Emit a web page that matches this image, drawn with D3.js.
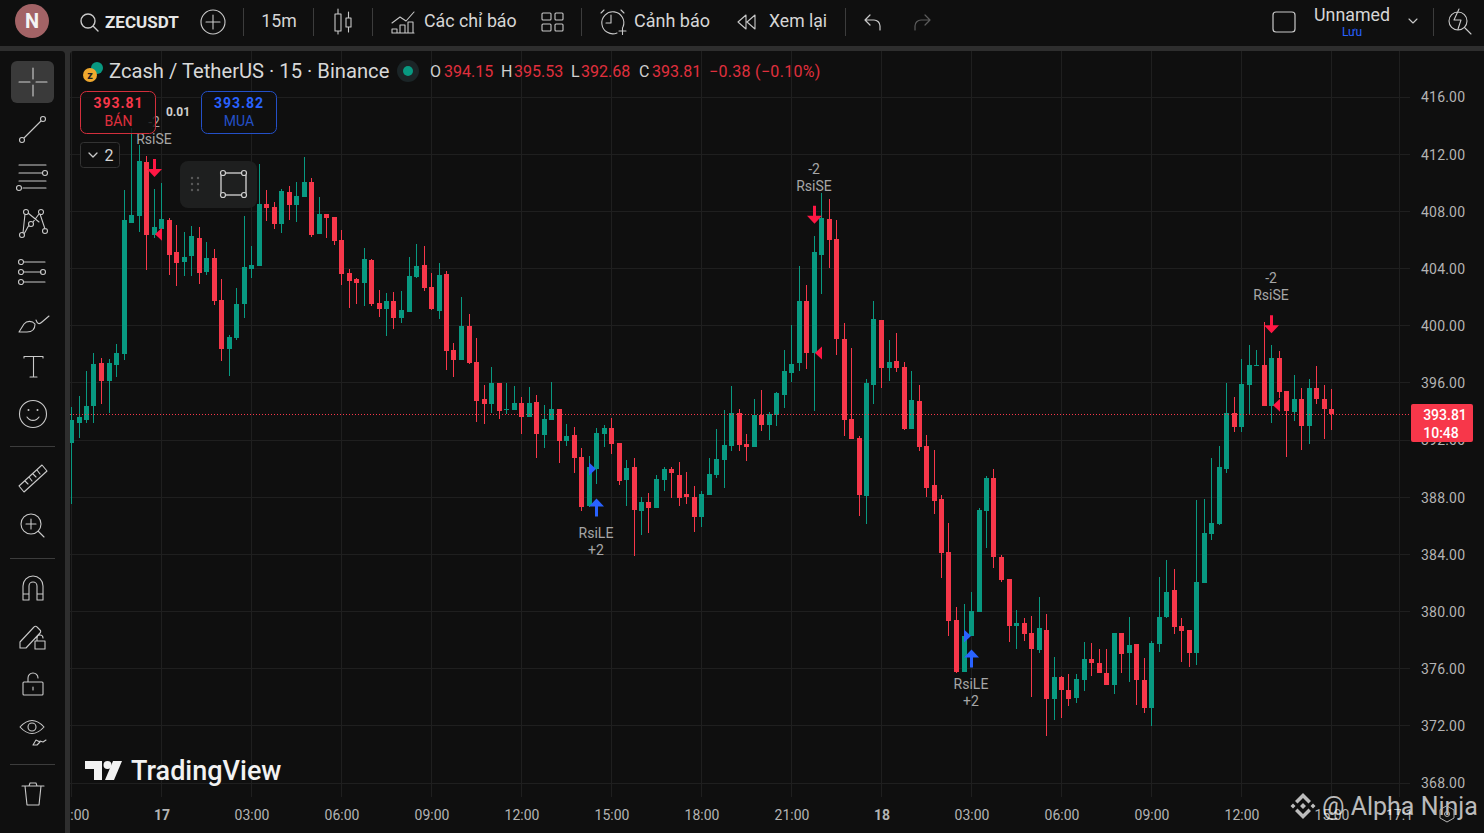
<!DOCTYPE html>
<html>
<head>
<meta charset="utf-8">
<script src="https://cdn.jsdelivr.net/npm/d3@7/dist/d3.min.js"></script>
<style>
  html, body { margin: 0; padding: 0; background: #0f0f0f; overflow: hidden; }
  svg { display: block; }
  text { font-family: Roboto, "Liberation Sans", sans-serif; }
</style>
</head>
<body>
<div id="chart"></div>
<script>
// 15m candles, left to right
const opens = [
  391.76,393.14,393.35,394.33,397.34,396.08,397.2,397.97,407.14,407.63,
  411.41,406.3,406.72,407.35,405.11,404.41,404.83,406.09,403.71,404.69,
  401.75,398.32,399.09,401.47,403.92,404.13,408.47,408.26,407.07,409.31,
  408.4,408.96,410.01,406.37,407.77,407.56,405.95,403.64,403.22,402.94,
  404.55,401.54,401.12,401.68,400.49,400.91,403.36,404.2,402.66,400.98,
  403.57,398.25,397.55,399.93,397.41,394.82,394.47,395.94,394.05,394.05,
  394.54,393.56,394.61,392.3,393.35,394.12,391.88,392.3,390.76,387.33,
  389.92,392.37,392.79,391.74,389.15,390.06,386.98,387.61,387.19,389.15,
  389.92,389.5,388.17,387.96,386.56,388.1,389.5,390.55,391.53,393.84,
  391.67,391.46,393.7,393,393.7,395.1,396.64,397.34,401.68,398.04,
  404.9,407.42,406.02,399.02,393.42,392.09,388.03,395.8,400.35,396.99,
  397.48,397.06,392.72,394.68,391.53,388.8,387.82,384.11,379.35,375.71,
  378.23,379.91,386.98,389.29,383.76,382.22,378.93,379.14,378.44,377.25,
  378.65,373.82,375.36,374.45,373.89,375.15,376.62,376.34,375.64,374.8,
  378.44,377.04,377.67,375.15,373.19,377.67,379.56,381.45,378.93,378.65,
  377.04,381.94,385.37,386.07,389.92,393.84,392.86,395.8,397.13,397.2,
  394.33,397.69,395.38,393.91,394.82,392.93,395.59,394.82,394.15
];
const highs = [
  394.28,395.03,396.78,398.04,397.69,397.62,398.67,409.45,413.79,412.6,
  411.83,409.52,409.94,407.49,407,406.51,406.93,406.86,405.81,405.32,
  403.22,399.3,402.59,407.63,405.53,411.27,409.45,408.61,409.52,409.73,
  410.01,411.76,410.29,408.96,407.77,407.56,406.65,403.92,403.29,405.39,
  404.62,402.45,402.24,402.31,402.38,404.76,405.67,405.53,403.64,404.34,
  403.78,398.74,401.96,400.77,399.09,395.8,397.06,395.94,395.94,395.73,
  394.96,395.66,395.1,394.4,396.01,394.12,393.07,392.86,391.39,390.83,
  392.79,393,393.49,391.74,390.55,390.69,387.96,388.24,389.5,390.06,
  390.06,390.41,389.71,388.73,388.38,390.69,392.72,394.05,395.73,394.12,
  392.37,394.82,395.45,393.91,395.31,398.25,400,404.13,402.8,406.23,
  409.24,408.82,407.35,400.14,398.39,392.23,396.22,401.68,400.35,398.95,
  399.44,397.41,396.78,395.8,392.3,391.25,388.1,386.14,380.26,380.47,
  381.31,387.19,389.43,389.92,383.9,382.22,380.05,379.49,379.63,380.96,
  379.77,376.76,375.43,375.57,375.57,377.81,377.74,377.32,377.32,378.44,
  378.44,379.56,377.67,376.69,377.88,382.36,383.55,382.92,379.49,378.65,
  387.75,387.82,390.69,391.53,395.94,394.96,397.62,398.6,398.25,400.21,
  398.6,398.18,395.38,396.5,395.59,396.22,397.13,395.8,395.53
];
const lows = [
  387.52,392.11,393.14,393.14,394.47,393.84,396.36,397.55,407.14,406.51,
  403.85,406.09,406.65,403.5,402.73,403.43,403.43,402.87,403.5,401.4,
  397.48,396.43,398.95,400.49,403.29,404.13,407.28,406.72,406.44,407.35,
  407.21,408.96,406.16,406.37,406.09,405.6,402.8,401.19,401.47,401.33,
  401.33,400.56,399.23,399.72,400.14,400.91,403.29,402.38,401.05,400.42,
  396.85,396.36,397.55,397.27,393.21,393.07,393.84,393.42,393.77,394.05,
  392.37,393.56,390.69,391.39,393.35,390.34,391.53,389.64,386.98,387.26,
  388.87,391.46,390.97,388.8,387.33,383.83,385.3,385.44,387.19,388.38,
  387.89,387.33,387.47,385.51,385.86,388.1,389.29,388.59,391.18,391.18,
  390.48,391.46,392.58,391.95,392.93,394.19,396.01,396.78,396.92,393.98,
  402.17,403.99,397.9,392.23,392.02,386.63,386.07,394.47,395.59,396.08,
  396.71,392.65,392.72,391.18,387.96,386.77,382.29,378.23,375.64,375.71,
  378.23,379.91,384.39,382.99,382.01,377.81,377.32,377.88,373.96,377.04,
  371.23,372.35,372.49,373.33,373.54,374.38,375.43,375.64,374.8,374.17,
  375.64,375.01,373.4,372.84,371.93,377.11,379.49,378.37,376.41,376.06,
  376.2,381.94,384.95,386,389.64,392.51,392.51,393.77,397.13,394.33,
  393.14,394.89,390.76,393.28,391.25,391.67,394.47,392.02,392.68
];
const closes = [
  393.35,393.56,394.33,397.27,396.08,397.34,398.04,407.35,407.7,411.48,
  406.3,406.86,407.42,404.9,404.34,404.76,406.23,403.64,404.69,401.68,
  398.32,399.16,401.47,404.06,404.2,408.47,408.19,407.07,409.38,408.4,
  409.03,410.01,406.3,407.77,407.49,405.88,403.57,403.08,402.94,404.62,
  401.47,401.12,401.68,400.49,401.05,403.43,404.13,402.59,401.12,403.5,
  398.18,397.55,399.93,397.34,394.68,394.47,395.94,393.98,394.12,394.54,
  393.56,394.54,392.37,393.42,394.12,391.88,392.23,390.69,387.26,390.06,
  392.44,392.79,391.67,389.08,389.99,387.05,387.61,387.19,389.22,389.92,
  389.64,387.89,387.96,386.56,388.17,389.57,390.62,391.6,393.84,391.6,
  391.46,393.7,393,393.77,395.24,396.78,397.27,401.68,398.04,405.11,
  407.49,405.95,399.02,393.35,392.02,388.1,395.94,400.42,396.99,397.41,
  396.99,392.72,394.75,391.46,388.59,387.68,384.04,379.28,375.71,378.23,
  379.98,387.05,389.29,383.76,382.15,378.93,379.14,378.37,377.32,378.79,
  373.82,375.36,374.45,373.82,375.22,376.62,376.34,375.64,374.8,378.44,
  376.97,377.6,375.15,373.19,377.74,379.56,381.31,378.86,378.58,377.04,
  382.01,385.44,386.14,390.06,393.84,392.86,395.87,397.2,397.2,394.33,
  397.69,395.31,393.98,394.82,392.93,395.59,394.82,394.12,393.81
];

// axis ticks
const priceTicks = [416,412,408,404,400,396,392,388,384,380,376,372,368];
const timeBars = [0,12,24,36,48,60,72,84,96,108,120,132,144,156,168,177];
const timeLabels = ["21:00","17","03:00","06:00","09:00","12:00","15:00","18:00","21:00","18","03:00","06:00","09:00","12:00","15:00","17:1"];
const boldLabels = ["17","18"];

// strategy signals
const entrySignals = [
  { bar: 11, price: 410.36, dir: "down", label: "RsiSE", size: "-2" },
  { bar: 70, price: 387.87, dir: "up", label: "RsiLE", size: "+2" },
  { bar: 99, price: 407.1, dir: "down", label: "RsiSE", size: "-2" },
  { bar: 120, price: 377.3, dir: "up", label: "RsiLE", size: "+2" },
  { bar: 160, price: 399.44, dir: "down", label: "RsiSE", size: "-2" },
];
const exitSignals = [
  { bar: 12, price: 406.37, dir: "left" },
  { bar: 69, price: 389.94, dir: "right" },
  { bar: 100, price: 398.06, dir: "left" },
  { bar: 119, price: 378.25, dir: "right" },
  { bar: 161, price: 394.4, dir: "left" },
];

const lastPrice = 393.81;
const legendItems = [
  { key: "O", val: "394.15", kx: 430, vx: 444 },
  { key: "H", val: "395.53", kx: 501, vx: 514 },
  { key: "L", val: "392.68", kx: 571, vx: 581 },
  { key: "C", val: "393.81", kx: 639, vx: 652 },
];

const width = 1484, height = 833;
const colors = {
  bg: "#0f0f0f", band: "#2e2e2e", grid: "#1f1f1f", up: "#089981", down: "#f7374a",
  text: "#d6d6d6", axis: "#b4b4b4", icon: "#c9c9c9", blue: "#2962ff", arrowDown: "#ff1744",
};

const svg = d3.select("#chart").append("svg").attr("width", width).attr("height", height);
svg.append("rect").attr("width", width).attr("height", height).attr("fill", colors.bg);

const x = d3.scaleLinear().domain([0, 168]).range([71.5, 1331.5]);
const y = d3.scaleLinear().domain([416, 368]).range([96.5, 782.5]);
const barX = (i) => Math.floor(x(i));

svg.append("clipPath").attr("id", "pane").append("rect")
  .attr("x", 70).attr("y", 50).attr("width", 1414).attr("height", 783);

const pane = svg.append("g").attr("clip-path", "url(#pane)");

drawGrid();
drawCandles();
drawLastLine();
drawSignals();
drawAxes();
drawFrame();
drawTopBar();
drawSideBar();
drawLegend();
drawOrderBoxes();
drawLogos();
drawLastLabel();

function drawGrid() {
  const grid = pane.append("g").attr("stroke", colors.grid).attr("shape-rendering", "crispEdges");
  grid.selectAll(".h").data(priceTicks).join("line")
    .attr("x1", 70).attr("x2", 1410)
    .attr("y1", (d) => Math.round(y(d)) + 0.5).attr("y2", (d) => Math.round(y(d)) + 0.5);
  grid.selectAll(".v").data(timeBars).join("line")
    .attr("x1", (d) => barX(d) + 0.5).attr("x2", (d) => barX(d) + 0.5)
    .attr("y1", 50).attr("y2", 797);
}

function drawCandles() {
  const bars = pane.append("g").attr("shape-rendering", "crispEdges");
  const idx = d3.range(opens.length);
  const col = (i) => (closes[i] >= opens[i] ? colors.up : colors.down);

  bars.selectAll(".wick").data(idx).join("rect")
    .attr("x", barX).attr("width", 1)
    .attr("y", (i) => Math.round(y(highs[i])))
    .attr("height", (i) => Math.max(1, Math.round(y(lows[i])) - Math.round(y(highs[i]))))
    .attr("fill", col);

  bars.selectAll(".body").data(idx).join("rect")
    .attr("x", (i) => barX(i) - 2).attr("width", 5)
    .attr("y", (i) => Math.round(y(Math.max(opens[i], closes[i]))))
    .attr("height", (i) => Math.max(1, Math.round(y(Math.min(opens[i], closes[i]))) - Math.round(y(Math.max(opens[i], closes[i])))))
    .attr("fill", col);
}

function drawLastLine() {
  pane.append("line")
    .attr("x1", 70).attr("x2", 1411)
    .attr("y1", Math.round(y(lastPrice)) + 0.5).attr("y2", Math.round(y(lastPrice)) + 0.5)
    .attr("stroke", colors.down).attr("stroke-dasharray", "1 2");
}

function drawSignals() {
  const g = pane.append("g");

  entrySignals.forEach((s) => {
    const cx = barX(s.bar) + 0.5;
    const py = y(s.price);
    const col = s.dir === "down" ? colors.arrowDown : colors.blue;
    const sign = s.dir === "down" ? -1 : 1;
    // arrow head sits next to the candle, shaft points away from it
    g.append("path")
      .attr("d", `M${cx},${py} l-7.5,${sign * 8} h6 v${sign * 10} h3 v${-sign * 10} h6 z`)
      .attr("fill", col);
    const labelY = s.dir === "down" ? py - 33 : py + 39;
    const sizeY = s.dir === "down" ? py - 50 : py + 56;
    g.append("text").attr("x", cx - 0.5).attr("y", labelY).attr("text-anchor", "middle")
      .attr("font-size", 14).attr("fill", "#a6a6a6").text(s.label);
    g.append("text").attr("x", cx - 0.5).attr("y", sizeY).attr("text-anchor", "middle")
      .attr("font-size", 14).attr("fill", "#a6a6a6").text(s.size);
  });

  exitSignals.forEach((s) => {
    const px = barX(s.bar);
    const py = y(s.price);
    const d = s.dir === "left"
      ? `M${px - 6},${py} l7,-6.5 v13 z`
      : `M${px + 7},${py} l-7,-6.5 v13 z`;
    g.append("path").attr("d", d).attr("fill", s.dir === "left" ? colors.arrowDown : colors.blue);
  });
}

function drawAxes() {
  const yAxis = d3.axisRight(y).tickValues(priceTicks).tickFormat(d3.format(".2f")).tickSize(0).tickPadding(0);
  const priceG = svg.append("g").attr("transform", "translate(1421,1)").call(yAxis);
  priceG.select(".domain").remove();
  priceG.selectAll("text").attr("font-size", 14).attr("fill", colors.axis)
    .attr("font-family", "Roboto").attr("letter-spacing", "0.2px");

  const xAxis = d3.axisBottom(x).tickValues(timeBars).tickFormat((d, i) => timeLabels[i]).tickSize(0).tickPadding(0);
  const timeG = pane.append("g").attr("transform", "translate(0,810)").call(xAxis);
  timeG.select(".domain").remove();
  timeG.selectAll("text").attr("font-size", 14).attr("fill", colors.axis)
    .attr("font-family", "Roboto")
    .attr("font-weight", (d, i) => (boldLabels.includes(timeLabels[i]) ? 700 : 400));
}

function drawFrame() {
  svg.append("rect").attr("x", 0).attr("y", 46).attr("width", width).attr("height", 5).attr("fill", colors.band);
  svg.append("rect").attr("x", 65).attr("y", 46).attr("width", 5).attr("height", 787).attr("fill", colors.band);
  svg.append("rect").attr("x", 0).attr("y", 51).attr("width", 65).attr("height", 782).attr("fill", colors.bg);
  svg.append("path").attr("d", "M70,51 h4 a4,4 0 0 0 -4,4 z").attr("fill", colors.band);
  svg.append("path").attr("d", "M65,51 h-4 a4,4 0 0 1 4,4 z").attr("fill", colors.band);
}

function icon(g, d, opt = {}) {
  return g.append("path").attr("d", d)
    .attr("fill", opt.fill || "none")
    .attr("stroke", opt.stroke === undefined ? colors.icon : opt.stroke)
    .attr("stroke-width", opt.sw || 1.1)
    .attr("stroke-linecap", "round").attr("stroke-linejoin", "round");
}

function circlePath(cx, cy, r) {
  return `M${cx - r},${cy} a${r},${r} 0 1 0 ${2 * r},0 a${r},${r} 0 1 0 ${-2 * r},0`;
}

function topText(tx, ty, str, opt = {}) {
  const t = svg.append("text").attr("x", tx).attr("y", ty)
    .attr("text-anchor", opt.anchor || "start")
    .attr("font-size", opt.size || 16).attr("font-weight", opt.weight || 400)
    .attr("fill", opt.fill || colors.text).text(str);
  if (opt.spacing) t.attr("letter-spacing", opt.spacing);
  return t;
}

function drawTopBar() {
  const g = svg.append("g");
  g.append("circle").attr("cx", 32).attr("cy", 21).attr("r", 17).attr("fill", "#a36366");
  topText(32, 28, "N", { anchor: "middle", size: 20, weight: 700, fill: "#f4f4f4" });

  icon(g, circlePath(88, 21, 7) + " M93,26 l5,5", { sw: 1.4 });
  topText(105, 28, "ZECUSDT", { size: 17, weight: 700, fill: "#e6e6e6" });
  icon(g, circlePath(213, 22, 12) + " M213,15 v14 M206,22 h14");

  [243, 313, 372, 581, 845, 1433].forEach((sx) => {
    g.append("line").attr("x1", sx + 0.5).attr("x2", sx + 0.5).attr("y1", 8).attr("y2", 36)
      .attr("stroke", "#3c3c3c");
  });

  topText(279, 27, "15m", { anchor: "middle", size: 17.7 });
  icon(g, "M335,14 h6 v17 h-6 z M338,9 v5 M338,31 v3 M346,18 h5 v9 h-5 z M348.5,12 v6 M348.5,27 v5");
  icon(g, "M392,23 l8,-6 l6,4 l8,-9 M392,33 v-4 h5 v4 M392,33 h22 M400,33 v-8 h5 v8 M408,33 v-11 h5 v11");
  topText(424, 27, "Các chỉ báo", { size: 17.8 });
  icon(g, "M543,13 h7 a1,1 0 0 1 1,1 v5 a1,1 0 0 1 -1,1 h-7 a1,1 0 0 1 -1,-1 v-5 a1,1 0 0 1 1,-1 z M556,13 h6 a1,1 0 0 1 1,1 v5 a1,1 0 0 1 -1,1 h-6 a1,1 0 0 1 -1,-1 v-5 a1,1 0 0 1 1,-1 z M543,24 h7 a1,1 0 0 1 1,1 v5 a1,1 0 0 1 -1,1 h-7 a1,1 0 0 1 -1,-1 v-5 a1,1 0 0 1 1,-1 z M556,24 h6 a1,1 0 0 1 1,1 v5 a1,1 0 0 1 -1,1 h-6 a1,1 0 0 1 -1,-1 v-5 a1,1 0 0 1 1,-1 z");
  icon(g, "M617,33 a11,11 0 1 1 6,-6 M611,15 v8 h-5 M601,13 l3,-3 M621,10 l3,3 M619,31 h7 M622.5,27.5 v7");
  topText(634, 27, "Cảnh báo", { size: 18 });
  icon(g, "M746,15 l-8,7 l8,7 z M755,15 l-8,7 l8,7 z");
  topText(769, 27, "Xem lại", { size: 17.6 });
  icon(g, "M870,15 l-5,5 l5,5 M865,20 h9 a6,6 0 0 1 6,6 v4", { sw: 1.2 });
  icon(g, "M925,15 l5,5 l-5,5 M930,20 h-9 a6,6 0 0 0 -6,6 v4", { stroke: "#5c5c5c", sw: 1.2 });

  icon(g, "M1276,12 h16 a3,3 0 0 1 3,3 v14 a3,3 0 0 1 -3,3 h-16 a3,3 0 0 1 -3,-3 v-14 a3,3 0 0 1 3,-3 z", { sw: 1.2 });
  topText(1352, 21, "Unnamed", { anchor: "middle", size: 17.8 });
  topText(1352, 36, "Lưu", { anchor: "middle", size: 12, fill: colors.blue });
  icon(g, "M1409,19 l4,4 l4,-4");
  icon(g, circlePath(1458, 21, 9) + " M1465,28 l6,6 M1459,9 l-5,11 h7 l-3,9", { sw: 1.1 });
}

function drawSideBar() {
  const g = svg.append("g");
  g.append("rect").attr("x", 11).attr("y", 61).attr("width", 43).attr("height", 42).attr("rx", 6).attr("fill", "#3a3a3a");
  icon(g, "M33,68 v11 M33,85 v11 M19,82 h11 M36,82 h11", { stroke: "#cfcfcf" });

  icon(g, circlePath(22, 140, 2.5) + circlePath(43, 119, 2.5) + " M24,138 L41,121");
  icon(g, "M19,165 h27 M19,173 h23 M19,181 h27 M23,188 h23 " + circlePath(45, 173, 2.5) + circlePath(19, 188, 2.5));
  icon(g, circlePath(26, 212, 2.5) + circlePath(41, 212, 2.5) + circlePath(22, 235, 2.5) + circlePath(45, 231, 2.5) + circlePath(31, 224, 2.5)
    + " M25,214 L23,233 M28,213 L39,222 M40,214 L45,229 M39,214 L33,222 M29,225 L24,234");
  icon(g, circlePath(21, 262, 2.5) + circlePath(21, 272, 2.5) + circlePath(21, 282, 2.5) + circlePath(43, 272, 2.5)
    + " M24,262 h21 M24,272 h17 M24,282 h21");
  icon(g, "M19,332 l5,-8 a7,7 0 0 1 11,0 q0,8 -8,8 z M36,320 q2,6 6,2 l7,-6", { sw: 1.1 });
  icon(g, "M24,358 v-1.5 h19 v1.5 M33.5,357 v20 M30,377 h7");
  icon(g, circlePath(33, 414, 13.5) + " M27,417 a7,7 0 0 0 12,0");
  g.append("circle").attr("cx", 28.5).attr("cy", 410).attr("r", 1).attr("fill", colors.icon);
  g.append("circle").attr("cx", 37.5).attr("cy", 410).attr("r", 1).attr("fill", colors.icon);

  [446, 558, 764].forEach((sy) => {
    g.append("line").attr("x1", 10).attr("x2", 55).attr("y1", sy + 0.5).attr("y2", sy + 0.5).attr("stroke", "#3c3c3c");
  });

  icon(g, "M19,486 L42,465 L47,471 L24,492 z M25,481 l3,3 M29,477 l3,4 M33,474 l3,3 M37,470 l3,4");
  icon(g, circlePath(31, 524, 10) + " M38,531 l6,6 M31,519 v10 M26,524 h10");
  icon(g, "M23,600 v-14 a10,10 0 0 1 20,0 v14 h-6 v-14 a4,4 0 0 0 -8,0 v14 z M23,594 h6 M37,594 h6");
  icon(g, "M20,648 v-6 l14,-15 a2,2 0 0 1 3,0 l3,3 a2,2 0 0 1 0,3 l-14,15 z M35,641 h10 v8 h-10 z M37,641 v-3 a3,3 0 0 1 6,0");
  icon(g, "M24,682 h18 a1,1 0 0 1 1,1 v11 a1,1 0 0 1 -1,1 h-18 a1,1 0 0 1 -1,-1 v-11 a1,1 0 0 1 1,-1 z M28,682 v-4 a5,5 0 0 1 10,0 M33,687 v3");
  icon(g, "M20,727 q12,-13 24,0 q-12,13 -24,0 z" + circlePath(32, 727, 4) + " M33,745 l3,-5 l4,2 l-3,3 z M40,741 l3,1 l3,-2");
  icon(g, "M22,786 h22 M29,786 l1,-3 h6 l1,3 M25,786 l2,19 h12 l2,-19");
}

function drawLegend() {
  // coin logo
  svg.append("circle").attr("cx", 97).attr("cy", 68).attr("r", 6).attr("fill", "#089981");
  svg.append("circle").attr("cx", 90).attr("cy", 75).attr("r", 7).attr("fill", "#f0a92e");
  topText(90, 79, "z", { anchor: "middle", size: 11, weight: 700, fill: "#222" });

  topText(109, 78, "Zcash / TetherUS · 15 · Binance", { size: 20.2, fill: "#d8d8d8" });

  svg.append("circle").attr("cx", 408).attr("cy", 71).attr("r", 11).attr("fill", "#1b2527");
  svg.append("circle").attr("cx", 408).attr("cy", 71).attr("r", 5).attr("fill", "#089981");

  legendItems.forEach((d) => {
    topText(d.kx, 77, d.key, { size: 16, fill: "#d0d0d0" });
    topText(d.vx, 77, d.val, { size: 16, fill: "#e0303e" });
  });
  topText(709, 77, "−0.38 (−0.10%)", { size: 16, fill: "#e0303e", spacing: "0.3px" });
}

function drawOrderBoxes() {
  const box = (bx, col) => svg.append("rect").attr("x", bx + 0.5).attr("y", 91.5).attr("width", 75).attr("height", 42)
    .attr("rx", 6).attr("fill", "rgba(15,15,15,0.8)").attr("stroke", col);
  box(80, "#d32f3c");
  box(201, "#2450c8");
  topText(118.5, 108, "393.81", { anchor: "middle", size: 14, weight: 700, fill: colors.down, spacing: "1px" });
  topText(118.5, 126, "BÁN", { anchor: "middle", size: 14, fill: "#e0303e" });
  topText(178, 116, "0.01", { anchor: "middle", size: 12, weight: 700, fill: "#cfcfcf" });
  topText(239, 108, "393.82", { anchor: "middle", size: 14, weight: 700, fill: colors.blue, spacing: "1px" });
  topText(239, 126, "MUA", { anchor: "middle", size: 14, fill: "#2450c8" });

  svg.append("rect").attr("x", 80.5).attr("y", 142.5).attr("width", 39).attr("height", 25).attr("rx", 3)
    .attr("fill", colors.bg).attr("stroke", "#333");
  const chev = svg.append("g");
  icon(chev, "M89,153 l4,4 l4,-4", { sw: 1.3 });
  topText(109, 161, "2", { anchor: "middle", size: 16 });

  // floating drawing toolbar
  const tb = svg.append("g");
  tb.append("rect").attr("x", 180).attr("y", 161).attr("width", 77).attr("height", 47).attr("rx", 8).attr("fill", "#1e1f1f");
  [192, 198].forEach((dx) => [178, 184, 190].forEach((dy) => {
    tb.append("circle").attr("cx", dx).attr("cy", dy).attr("r", 1.2).attr("fill", "#5a5a5a");
  }));
  icon(tb, "M223,173 h20 M246,175 v18 M243,195 h-20 M221,193 v-18", { stroke: "#bdbdbd", sw: 1.5 });
  [[223, 173], [244, 173], [223, 195], [244, 195]].forEach(([cx, cy]) => {
    tb.append("circle").attr("cx", cx).attr("cy", cy).attr("r", 2.5)
      .attr("fill", "#1e1f1f").attr("stroke", "#d0d0d0").attr("stroke-width", 1.2);
  });
}

function drawLogos() {
  const g = svg.append("g").attr("fill", "#f2f2f2");
  // TradingView mark
  g.append("path").attr("d", "M85,761 h17 v19 h-8 v-11 h-9 z");
  g.append("circle").attr("cx", 107.5).attr("cy", 765).attr("r", 4);
  g.append("path").attr("d", "M113,761 h9 l-8,19 h-9 z");
  g.append("text").attr("x", 131).attr("y", 780).attr("font-size", 27).attr("font-weight", 500)
    .attr("fill", "#f2f2f2").text("TradingView");

  // watermark on top of everything
  const w = svg.append("g").attr("fill", "#ffffff").attr("fill-opacity", 0.72);
  const dm = (cx, cy, r) => `M${cx},${cy - r} L${cx + r},${cy} L${cx},${cy + r} L${cx - r},${cy} z`;
  w.append("path").attr("d", dm(1303, 806, 3) + dm(1293, 806, 2.5) + dm(1313, 806, 2.5));
  w.append("path").attr("d", "M1303,793 l8,8 l-2.5,2.5 l-5.5,-5.5 l-5.5,5.5 l-2.5,-2.5 z M1303,819 l8,-8 l-2.5,-2.5 l-5.5,5.5 l-5.5,-5.5 l-2.5,2.5 z");
  w.append("text").attr("x", 1322).attr("y", 815).attr("font-size", 25).attr("font-family", "Open Sans").text("@ Alpha Ninja");

  const gear = svg.append("g");
  icon(gear, "M1447,806 l7,4 v8 l-7,4 l-7,-4 v-8 z" + circlePath(1447, 814, 2.5), { stroke: "#b4b4b4", sw: 1 });
}

function drawLastLabel() {
  const ly = Math.round(y(lastPrice));
  svg.append("rect").attr("x", 1411).attr("y", ly - 10).attr("width", 62).attr("height", 38).attr("rx", 2).attr("fill", colors.down);
  topText(1445, ly + 6, lastPrice.toFixed(2), { anchor: "middle", size: 14, weight: 500, fill: "#fff" });
  topText(1441, ly + 24, "10:48", { anchor: "middle", size: 14, weight: 500, fill: "#fff" });
}
</script>
</body>
</html>
